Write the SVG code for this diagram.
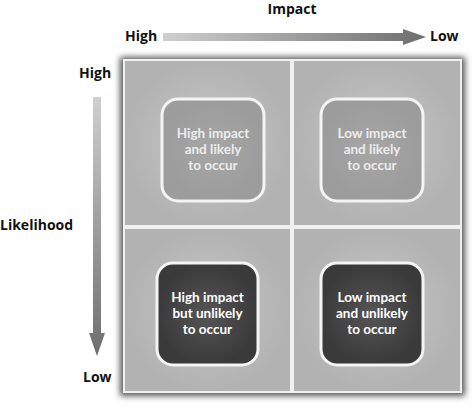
<svg xmlns="http://www.w3.org/2000/svg" width="474" height="409" viewBox="0 0 474 409">
<style>
.lbl{font-family:"Open Sans",Lato,"Liberation Sans",sans-serif;font-weight:bold;fill:#111;font-size:14px}
.bt{font-family:Lato,"Open Sans","Liberation Sans",sans-serif;font-weight:bold;font-size:13.5px;text-anchor:middle}
.box{stroke:#f4f4f4;stroke-width:3}
</style>
<defs>
<linearGradient id="hg" x1="0" y1="0" x2="1" y2="0"><stop offset="0" stop-color="#cfcfcf"/><stop offset="1" stop-color="#6e6e6e"/></linearGradient>
<linearGradient id="vg" x1="0" y1="0" x2="0" y2="1"><stop offset="0" stop-color="#cfcfcf"/><stop offset="1" stop-color="#6e6e6e"/></linearGradient>
<radialGradient id="cell"><stop offset="0" stop-color="#c8c8c8"/><stop offset="1" stop-color="#b2b2b2"/></radialGradient>
<radialGradient id="lbox"><stop offset="0" stop-color="#a6a6a6"/><stop offset="1" stop-color="#9c9c9c"/></radialGradient>
<radialGradient id="dbox"><stop offset="0" stop-color="#555"/><stop offset="1" stop-color="#3a3a3a"/></radialGradient>
<filter id="sh" x="-10%" y="-10%" width="120%" height="120%"><feGaussianBlur stdDeviation="3"/></filter>
</defs>
<rect width="474" height="409" fill="#fff"/>
<text class="lbl" x="292" y="14" text-anchor="middle" font-size="15">Impact</text>
<text class="lbl" x="125" y="41">High</text>
<text class="lbl" x="430" y="41">Low</text>
<text class="lbl" x="79" y="78">High</text>
<text class="lbl" x="0" y="230">Likelihood</text>
<text class="lbl" x="83" y="382">Low</text>
<g id="connectors">
<path d="M163 33 H403 V29 L426 37 L403 45 V41 H163 Z" fill="url(#hg)"/>
<path d="M93 97 V333 H89 L97 356 L105 333 H101 V97 Z" fill="url(#vg)"/>
</g>
<g id="grid">
<rect x="120" y="57" width="345" height="339" fill="#555" filter="url(#sh)"/>
<rect x="123" y="59" width="339" height="334" fill="#f0f0f0"/>
<rect x="125" y="61" width="165" height="164" fill="url(#cell)"/>
<rect x="294" y="61" width="166" height="164" fill="url(#cell)"/>
<rect x="125" y="229" width="165" height="162" fill="url(#cell)"/>
<rect x="294" y="229" width="166" height="162" fill="url(#cell)"/>
</g>
<g id="n1"><rect class="box" x="162" y="99" width="102" height="102" rx="16" fill="url(#lbox)"/>
<text class="bt" fill="#ececec"><tspan x="213" y="137.5">High impact</tspan><tspan x="213" y="153.5">and likely</tspan><tspan x="213" y="169.5">to occur</tspan></text></g>
<g id="n2"><rect class="box" x="321" y="99" width="102" height="102" rx="16" fill="url(#lbox)"/>
<text class="bt" fill="#ececec"><tspan x="372" y="137.5">Low impact</tspan><tspan x="372" y="153.5">and likely</tspan><tspan x="372" y="169.5">to occur</tspan></text></g>
<g id="n3"><rect class="box" x="157" y="263" width="101" height="102" rx="16" fill="url(#dbox)"/>
<text class="bt" fill="#fff"><tspan x="207.5" y="302">High impact</tspan><tspan x="207.5" y="318">but unlikely</tspan><tspan x="207.5" y="334">to occur</tspan></text></g>
<g id="n4"><rect class="box" x="321" y="263" width="102" height="102" rx="16" fill="url(#dbox)"/>
<text class="bt" fill="#fff"><tspan x="372" y="302">Low impact</tspan><tspan x="372" y="318">and unlikely</tspan><tspan x="372" y="334">to occur</tspan></text></g>
</svg>
